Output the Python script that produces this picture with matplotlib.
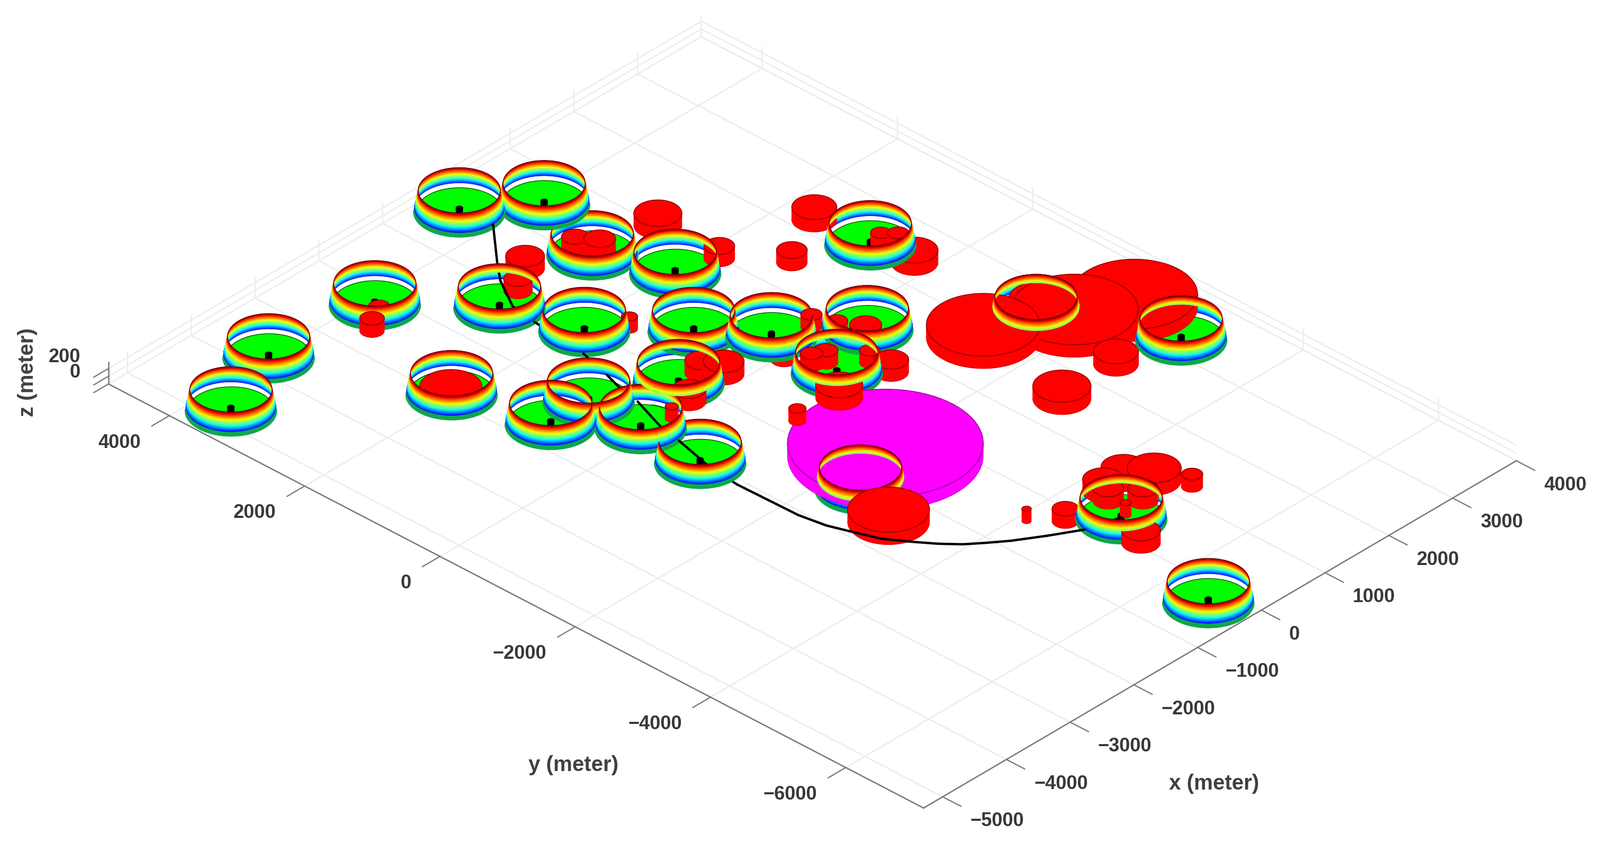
import numpy as np
import matplotlib
matplotlib.use("Agg")
import matplotlib.pyplot as plt
from mpl_toolkits.mplot3d import proj3d
from mpl_toolkits.mplot3d.art3d import Poly3DCollection

# tanks, x / y of the centre in meter
ring_x = [-4780, -3749, -271, 456, 100, 450, 2294, -2213, -1337, -1045, -239, 261, 1070,
          -2921, -2014, -1090, 222, -2611, -2006, -2061, -1241, 2472, 3238, 260, -287]
ring_y = [3580, 3994, 4452, 3884, 2836, 1941, 794, 3872, 2854, 1875, 1018, 340, -317,
          2069, 899, 440, -664, 895, 135, -795, -2394, -1488, -2913, -4833, -6636]
# tanks crossed by a disc, the disc hides the lower part of the wall
split_back = [5, 6, 8, 12, 15, 16, 20, 21, 22, 23]
split_front = [15, 16, 20, 21, 23]
low_key = {20: -600, 21: 2000}

# red discs
disc_x = [1002, 2242, 1468, -585, -956, -2371, -2598, 59, 211, 991, 2372, 2369, 2497,
          1820, 2708, 3369, 2422, 1531, 2611, -96, -738, -1500, -469, -183,
          840, 1051, 516, 1243, 70, 423, 679, 348,
          -614, -759, -758, -1261, -671, 33, 699, 954, 800, 298, 149, 622, 649, -1635, -2987]
disc_y = [2721, 1577, 1179, 3188, 2943, 3662, 3554, 3055, 2835, 1802, 218, 714, 578,
          -1318, -1826, -2092, -2714, -2754, -1432, -995, -981, -3048, -4116, -4420,
          -4316, -4570, -4320, -4949, -5300, -4483, -4755, -4811,
          225, 466, 407, 128, 1564, -57, 165, -396, -117, -426, -355, -771, -1062, 31, 2022]
disc_r = [258, 242, 165, 209, 154, 115, 132, 147, 171, 165, 253, 110, 115,
          611, 689, 681, 242, 313, 355, 253, 93, 440, 50, 143,
          242, 291, 220, 115, 209, 165, 165, 60,
          220, 115, 187, 185, 88, 143, 115, 172, 115, 130, 120, 110, 187, 70, 335]

# magenta disc
big_x, big_y, big_r = -582, -2135, 1053

# black path
path_x = [-225, -744, -968, -1239, -1298, -1386, -1516, -1600, -1666, -1849, -1915, -2052, -2109,
          -2100, -2091, -2033, -1938, -1814, -1638, -1464, -1290, -1096, -886, -542, -184, 260]
path_y = [3996, 3445, 3188, 2750, 2377, 1568, 1097, 837, 501, -3, -340, -892, -1384,
          -1830, -2275, -2628, -2902, -3239, -3512, -3755, -3954, -4118, -4283, -4503, -4710, -4833]

x_ticks = list(range(-5000, 5000, 1000))
y_ticks = list(range(-6000, 6000, 2000))
z_ticks = [0, 100, 200]
z_tick_labels = ["0", "", "200"]

W, H = 3022, 1590
ELEV, AZIM = 33.5, 223.3
XLIM, YLIM, ZLIM = (-5300, 4000), (-7150, 4900), (0, 280)

R_BOT, R_TOP, R_FLOOR = 495, 442, 470
DISC_H = 160
N_BANDS = 26
RED, RED_EDGE = (1, 0, 0), (0.55, 0, 0)
MAG, MAG_EDGE = (1, 0, 1), (0.6, 0, 0.6)

plt.rcParams["font.family"] = ["Liberation Sans", "DejaVu Sans"]
plt.rcParams["font.weight"] = "bold"
plt.rcParams["font.size"] = 26
plt.rcParams["axes.edgecolor"] = "#777777"
plt.rcParams["axes.linewidth"] = 1.8
plt.rcParams["grid.color"] = "#ececec"
plt.rcParams["grid.linewidth"] = 1.8
plt.rcParams["xtick.color"] = "#777777"
plt.rcParams["ytick.color"] = "#777777"
plt.rcParams["xtick.labelcolor"] = "#383838"
plt.rcParams["ytick.labelcolor"] = "#383838"
plt.rcParams["xtick.major.width"] = 1.6
plt.rcParams["ytick.major.width"] = 1.6

fig = plt.figure(figsize=(W / 100, H / 100), dpi=100)
ax = fig.add_subplot(projection="3d", proj_type="ortho", computed_zorder=False)
ax.view_init(elev=ELEV, azim=AZIM)
ax.set_xlim(*XLIM, view_margin=0)
ax.set_ylim(*YLIM, view_margin=0)
ax.set_zlim(*ZLIM, view_margin=0)
ax.set_box_aspect((XLIM[1] - XLIM[0], YLIM[1] - YLIM[0], ZLIM[1] - ZLIM[0]))

cam = np.deg2rad(AZIM)
away = np.array([-np.cos(cam), -np.sin(cam)])


def depth(x, y):
    return away[0] * x + away[1] * y


def arc(cx, cy, r, z, side):
    if side == "front":
        t = np.linspace(cam - np.pi / 2, cam + np.pi / 2, 50)
    else:
        t = np.linspace(cam + np.pi / 2, cam + 3 * np.pi / 2, 50)
    return np.column_stack([cx + r * np.cos(t), cy + r * np.sin(t), np.full(50, z)])


def circle(cx, cy, r, z):
    t = np.linspace(0, 2 * np.pi, 80)
    return np.column_stack([cx + r * np.cos(t), cy + r * np.sin(t), np.full(80, z)])


def wall_radius(z):
    return R_BOT + (R_TOP - R_BOT) * z / ZLIM[1]


def band_color(f, side):
    if f < 0.2:
        return (0.05, 0.66, 0.3) if side == "front" else (1, 1, 1)
    return plt.get_cmap("jet")(0.13 + (f - 0.2) / 0.8 * 0.87)


def draw_wall(cx, cy, side, z0, z1, order):
    verts, cols = [], []
    for i in range(N_BANDS):
        a = ZLIM[1] * i / N_BANDS
        b = ZLIM[1] * (i + 1) / N_BANDS
        if b <= z0 or a >= z1:
            continue
        low = arc(cx, cy, wall_radius(a), a, side)
        top = arc(cx, cy, wall_radius(b), b, side)
        verts.append(np.vstack([low, top[::-1]]))
        cols.append(band_color((i + 0.5) / N_BANDS, side))
    col = Poly3DCollection(verts, facecolors=cols, edgecolors=cols, linewidths=0.5, zorder=order)
    ax.add_collection3d(col, autolim=False)
    if z1 >= ZLIM[1]:
        rim = arc(cx, cy, R_TOP, ZLIM[1], side)
        ax.plot(rim[:, 0], rim[:, 1], rim[:, 2], color="#600000", lw=0.8, zorder=order + 0.1)


def draw_floor(cx, cy, order):
    col = Poly3DCollection([circle(cx, cy, R_FLOOR, 5)], facecolors=[(0, 1, 0)],
                           edgecolors=[(0, 0.3, 0)], linewidths=1.0, zorder=order)
    ax.add_collection3d(col, autolim=False)
    # black post in the middle
    side = np.vstack([arc(cx, cy, 37, 5, "front"), arc(cx, cy, 37, 55, "front")[::-1]])
    col = Poly3DCollection([side, circle(cx, cy, 37, 55)], facecolors="black",
                           edgecolors="black", linewidths=0.5, zorder=order + 0.1)
    ax.add_collection3d(col, autolim=False)


def draw_disc(cx, cy, r, face, edge, order):
    side = np.vstack([arc(cx, cy, r, 0, "front"), arc(cx, cy, r, DISC_H, "front")[::-1]])
    col = Poly3DCollection([side], facecolors=[face], edgecolors=[face], linewidths=0.8, zorder=order)
    ax.add_collection3d(col, autolim=False)
    col = Poly3DCollection([circle(cx, cy, r, DISC_H)], facecolors=[face], edgecolors=[edge],
                           linewidths=1.2, zorder=order + 0.1)
    ax.add_collection3d(col, autolim=False)
    low = arc(cx, cy, r, 0, "front")
    ax.plot(low[:, 0], low[:, 1], low[:, 2], color=edge, lw=0.7, alpha=0.4, zorder=order + 0.2)


# back to front list of what to draw, far things have a big key
items = []
for i, (cx, cy) in enumerate(zip(ring_x, ring_y)):
    d = depth(cx, cy)
    if i in split_back:
        items.append((d + R_BOT + 1500, "wall", cx, cy, "back", 0, DISC_H))
        items.append((d + R_BOT + 1499, "floor", cx, cy))
        items.append((d - 0.9 * R_BOT, "wall", cx, cy, "back", DISC_H, ZLIM[1]))
    else:
        items.append((d + R_BOT, "wall", cx, cy, "back", 0, ZLIM[1]))
        items.append((d + R_BOT - 1, "floor", cx, cy))
    if i in split_front:
        items.append((low_key.get(i, d - 0.5 * R_BOT), "wall", cx, cy, "front", 0, DISC_H))
        items.append((d - R_BOT, "wall", cx, cy, "front", DISC_H, ZLIM[1]))
    else:
        items.append((d - R_BOT, "wall", cx, cy, "front", 0, ZLIM[1]))

for cx, cy, r in zip(disc_x, disc_y, disc_r):
    items.append((depth(cx, cy), "disc", cx, cy, r, RED, RED_EDGE))
items.append((-700, "disc", big_x, big_y, big_r, MAG, MAG_EDGE))

for i in range(len(path_x) - 1):
    mid = depth((path_x[i] + path_x[i + 1]) / 2, (path_y[i] + path_y[i + 1]) / 2)
    items.append((mid, "path", i))

items.sort(key=lambda it: -it[0])
for n, it in enumerate(items):
    order = 10 + n
    if it[1] == "wall":
        draw_wall(it[2], it[3], it[4], it[5], it[6], order)
    elif it[1] == "floor":
        draw_floor(it[2], it[3], order)
    elif it[1] == "disc":
        draw_disc(it[2], it[3], it[4], it[5], it[6], order)
    else:
        i = it[2]
        ax.plot(path_x[i:i + 2], path_y[i:i + 2], [20, 20], color="black", lw=3.2,
                solid_capstyle="round", zorder=order)

ax.set_xticks(x_ticks)
ax.set_yticks(y_ticks)
ax.set_zticks(z_ticks)
ax.set_zticklabels(["" for t in z_ticks])
ax.tick_params(axis="x", pad=25)
ax.tick_params(axis="y", pad=39)
plt.setp(ax.get_xticklabels(), ha="left")
plt.setp(ax.get_yticklabels(), ha="right")

# z labels sit above their ticks, the axis would put them below
for z, lab in zip(z_ticks, z_tick_labels):
    ax.text(XLIM[0], YLIM[1] + 416, z - 40, lab, color="#383838", ha="right", va="center")

for axis, factor in ((ax.xaxis, 0.28), (ax.yaxis, 0.37), (ax.zaxis, 0.31)):
    axis.set_pane_color((1, 1, 1, 0))
    axis.pane.set_edgecolor((1, 1, 1, 0))
    axis._axinfo["tick"]["inward_factor"] = 0
    axis._axinfo["tick"]["outward_factor"] = -factor

# square axes, moved so the floor lands on the same pixels as the picture
side = 2590.0
ax.set_position([0, 0, side / W, side / H])


def to_px(x, y, z):
    ax.apply_aspect()
    xp, yp, _ = proj3d.proj_transform(x, y, z, ax.get_proj())
    return ax.transData.transform((xp, yp))


a = to_px(-5000, 0, 0)
b = to_px(4000, 0, 0)
side = side * 1255.7 / np.hypot(*(b - a))
ax.set_position([0, 0, side / W, side / H])
p = to_px(0, 0, 0)
ax.set_position([(1469 - p[0]) / W, (H - 677 - p[1]) / H, side / W, side / H])

fig.text(2293 / W, 1 - 1480 / H, "x (meter)", fontsize=29, color="#404040", ha="center", va="center")
fig.text(1083 / W, 1 - 1445 / H, "y (meter)", fontsize=29, color="#404040", ha="center", va="center")
fig.text(52 / W, 1 - 703 / H, "z (meter)", fontsize=29, color="#404040", ha="center", va="center", rotation=90)

fig.savefig("out.png", dpi=100)
